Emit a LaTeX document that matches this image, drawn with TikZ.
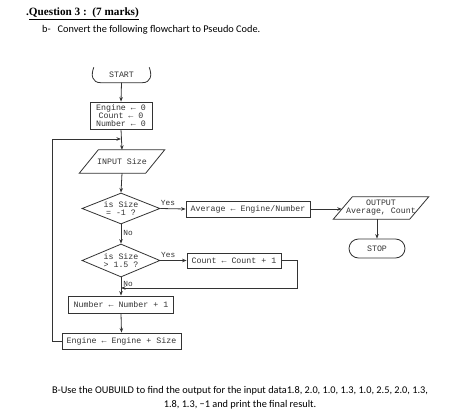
\documentclass[tikz,border=0pt]{standalone}
\usepackage{fontspec}
\setmainfont{Carlito}
\newfontfamily\monof{Liberation Mono}
\newfontfamily\titlef{Liberation Serif}
\usetikzlibrary{shapes.geometric,arrows.meta,calc}
\definecolor{ln}{HTML}{333333}
\definecolor{tx}{HTML}{333333}
\tikzset{
  every node/.style={text=tx},
  fc/.style={font=\monof\fontsize{8.3}{8}\selectfont, inner sep=0pt, align=center},
  boxn/.style={fc, draw=ln, line width=0.8pt},
  dia/.style={fc, draw=ln, line width=0.8pt, shape=diamond, aspect=2.5, font=\monof\fontsize{8.3}{7.3}\selectfont},
  con/.style={draw=ln, line width=0.8pt},
  arr/.style={con, -{Stealth[length=4.5pt,width=3.5pt]}},
  lab/.style={font=\monof\fontsize{7.8}{8}\selectfont, inner sep=0pt},
}
\begin{document}
\begin{tikzpicture}[x=1pt,y=-1pt]
\useasboundingbox[fill=white] (0,0) rectangle (474,415);

% header texts
\node[anchor=west, inner sep=0pt, font=\titlef\bfseries\fontsize{11.2}{13}\selectfont, text=black] (title) at (26,14) {.\underline{Question 3 :\ \ (7 marks)}};
\node[anchor=west, inner sep=0pt, font=\fontsize{10.3}{12}\selectfont, text=black] (qb) at (42,29.5) {b-\ \ \ Convert the following flowchart to Pseudo Code.};

% flowchart nodes
\node[fc, minimum width=57, minimum height=15] (start) at (121.5,75) {START};
\draw[con] ($(start.north west)+(1,0)$) .. controls ($(start.west)+(-2,0)$) and ($(start.south west)+(-1,0)$) .. ($(start.south west)+(8,0)$) -- ($(start.south east)+(-8,0)$) .. controls ($(start.south east)+(1,0)$) and ($(start.east)+(2,0)$) .. ($(start.north east)+(-1,0)$);

\node[boxn, minimum width=62, minimum height=27, font=\monof\fontsize{8.3}{8.3}\selectfont] (init) at (121,115.5) {Engine ← 0\\Count ← 0\\Number ← 0};

\node[fc, minimum width=66, minimum height=23] (input) at (122,161.5) {INPUT Size};
\draw[con] ($(input.north west)+(9.5,0)$) -- ($(input.north east)+(9.5,0)$) -- ($(input.south east)+(-9.5,0)$) -- ($(input.south west)+(-9.5,0)$) -- cycle;

\node[dia, minimum width=78, minimum height=31] (d1) at (121,208.5) {is Size\\= -1 ?};
\node[dia, minimum width=78, minimum height=33] (d2) at (121,260.5) {is Size\\> 1.5 ?};

\node[boxn, minimum width=124, minimum height=16] (avg) at (248,209) {Average ← Engine/Number};
\node[fc, minimum width=76, minimum height=22] (out) at (381,208) {OUTPUT\\Average, Count};
\draw[con] ($(out.north west)+(9.5,0)$) -- ($(out.north east)+(9.5,0)$) -- ($(out.south east)+(-9.5,0)$) -- ($(out.south west)+(-9.5,0)$) -- cycle;
\node[boxn, minimum width=56, minimum height=19, rounded corners=9.5pt] (stop) at (377,248.5) {STOP};

\node[boxn, minimum width=94, minimum height=15] (cnt) at (234,260.5) {Count ← Count + 1};
\node[boxn, minimum width=105, minimum height=17] (num) at (121,304.5) {Number ← Number + 1};
\node[boxn, minimum width=119, minimum height=16] (eng) at (121.5,341) {Engine ← Engine + Size};

\coordinate (j1) at (121,288);
\coordinate (j2) at (121,139);
\coordinate (r1) at (297,260.5);
\coordinate (l1) at (52,341);

% connectors
\draw[arr] (start.south) -- (init.north);
\draw[arr] (init.south) -- (input.north);
\draw[arr] (input.south) -- (d1.north);
\draw[arr] (d1.east) -- node[lab, above=2.5pt, pos=0.3] (y1) {Yes} (avg.west);
\draw[arr] (avg.east) -- ($(out.west)+(-1,1)$);
\draw[arr] (stop.north |- out.south) -- (stop.north);
\draw[arr] (d1.south) -- node[lab, right=2pt, pos=0.45] (n1) {No} (d2.north);
\draw[arr] (d2.east) -- node[lab, above=2.5pt, pos=0.3] (y2) {Yes} (cnt.west);
\draw[arr] (cnt.east) -- (r1) |- (j1);
\draw[arr] (d2.south) -- node[lab, right=2pt, pos=0.35] (n2) {No} (num.north);
\draw[arr] (num.south) -- (eng.north);
\draw[arr] (eng.west) -- (l1) |- (j2);

% bottom text
\node[inner sep=0pt, font=\fontsize{10.3}{14}\selectfont, text=black, align=center] (task) at (240,397.5) {B-Use the OUBUILD to find the output for the input data1.8, 2.0, 1.0, 1.3, 1.0, 2.5, 2.0, 1.3,\\1.8, 1.3, −1 and print the final result.};
\end{tikzpicture}
\end{document}
